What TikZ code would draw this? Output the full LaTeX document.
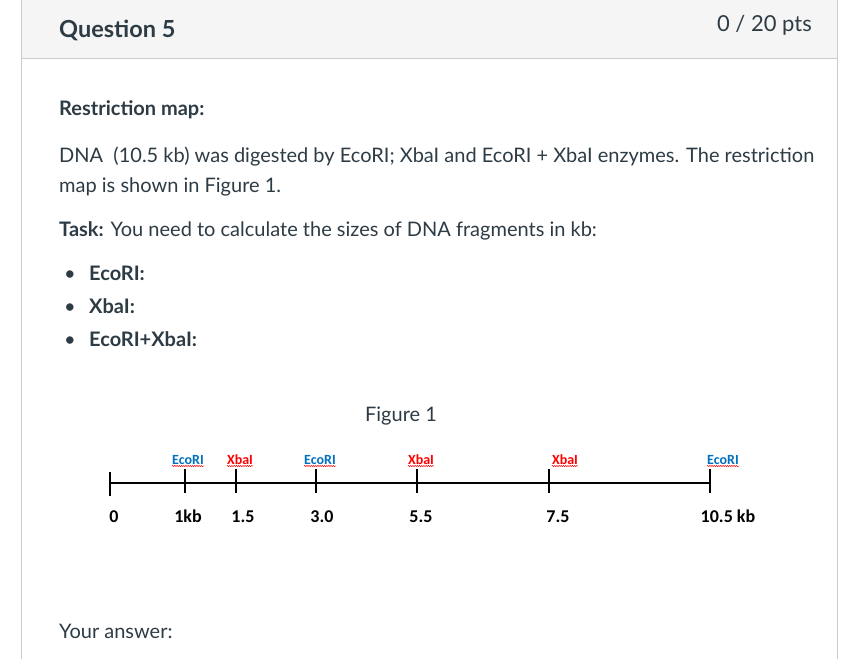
\documentclass[tikz,border=0pt]{standalone}
\usepackage{fontspec}
\setmainfont{Lato}
\newfontfamily\figfont{Carlito}
\usetikzlibrary{positioning, decorations.pathmorphing}

\definecolor{canvastext}{HTML}{2D3B45}
\definecolor{headerbg}{HTML}{F5F5F5}
\definecolor{bordergray}{HTML}{C7CDD1}
\definecolor{ecoblue}{HTML}{0070C0}
\definecolor{xbared}{HTML}{FF0000}

\tikzset{
  body/.style={anchor=base west, inner sep=0pt, text=canvastext, font=\fontsize{20}{24}\selectfont},
  bodybold/.style={body, font=\fontsize{20}{24}\selectfont\bfseries},
  enzyme/.style={anchor=base, inner sep=0pt, font=\figfont\fontsize{14}{16}\selectfont\bfseries},
  eco/.style={enzyme, text=ecoblue},
  xba/.style={enzyme, text=xbared},
  kblabel/.style={anchor=base, inner sep=0pt, font=\figfont\fontsize{18}{20}\selectfont\bfseries},
  squiggle/.style={xbared, line width=0.5pt, decorate, decoration={snake, amplitude=0.6pt, segment length=2.2pt}},
  maptick/.style={line width=1.4pt}
}

\begin{document}
\begin{tikzpicture}[x=1pt, y=-1pt]
\useasboundingbox (0,0) rectangle (846,659);

% card frame and header
\fill[headerbg] (21,0) rectangle (837,58);
\draw[bordergray, line width=1pt] (21,0) -- (21,659) (837,0) -- (837,659) (21,58) -- (837,58);
\node[body, font=\fontsize{23.5}{26}\selectfont\bfseries] (qtitle) at (59,37) {Question 5};
\node[body, anchor=base east, font=\fontsize{22}{24}\selectfont] (pts) at (812,31) {0 / 20 pts};

% question text
\node[bodybold] (head) at (59,115) {Restriction map:};
\node[body] (line1) at (59,162) {DNA\ \ (10.5 kb) was digested by EcoRI; XbaI and EcoRI + XbaI enzymes. The restriction};
\node[body] (line2) at (59,192) {map is shown in Figure 1.};
\node[body] (task) at (59,236) {\textbf{Task:} You need to calculate the sizes of DNA fragments in kb:};
\foreach \txt/\yy [count=\i] in {EcoRI:/280, XbaI:/313, EcoRI+XbaI:/346}{
  \node[body] (dot\i) at (64,\yy) {\textbullet};
  \node[bodybold] (item\i) at (89,\yy) {\txt};
}

% Figure 1
\node[body, anchor=base] (fig) at (401,421) {Figure 1};
\coordinate (p0) at (110,483);
\coordinate (p1) at (185,483);
\coordinate (p2) at (236,483);
\coordinate (p3) at (316,483);
\coordinate (p4) at (417,483);
\coordinate (p5) at (549,483);
\coordinate (p6) at (710,483);
\draw[maptick] (p0) -- (p6);
\draw[maptick] (p0) ++(0,-11) -- ++(0,24);
\foreach \k in {1,...,6}{
  \draw[maptick] (p\k) ++(0,-14) -- ++(0,24);
}

\node[eco] (cut1) at (188,464) {EcoRI};
\node[xba] (cut2) at (240,464) {XbaI};
\node[eco] (cut3) at (320,464) {EcoRI};
\node[xba] (cut4) at (421,464) {XbaI};
\node[xba] (cut5) at (565,464) {XbaI};
\node[eco] (cut6) at (723,464) {EcoRI};
\foreach \k in {1,...,6}{
  \draw[squiggle] ([yshift=-2pt]cut\k.base west) -- ([yshift=-2pt]cut\k.base east);
}

\node[kblabel] (kb0) at (114,522) {0};
\node[kblabel] (kb1) at (188,522) {1kb};
\node[kblabel] (kb2) at (243,522) {1.5};
\node[kblabel] (kb3) at (322,522) {3.0};
\node[kblabel] (kb4) at (421,522) {5.5};
\node[kblabel] (kb5) at (558,522) {7.5};
\node[kblabel] (kb6) at (728,522) {10.5 kb};

\node[body] (answer) at (59,638) {Your answer:};
\end{tikzpicture}
\end{document}
